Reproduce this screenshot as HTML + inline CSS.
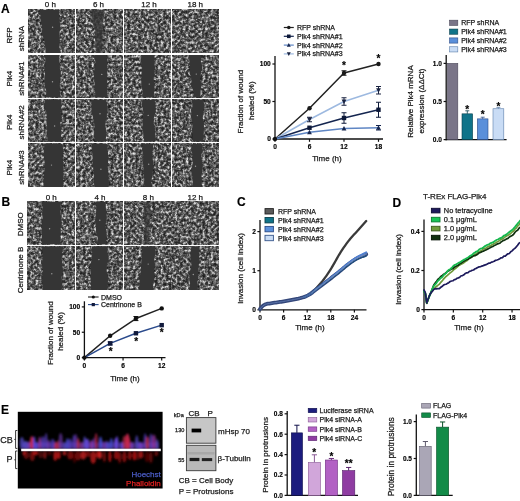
<!DOCTYPE html>
<html><head><meta charset="utf-8"><title>Figure</title>
<style>html,body{margin:0;padding:0;background:#fff;}svg{display:block;}text{font-family:"Liberation Sans",sans-serif;}</style></head>
<body>
<svg width="520" height="501" viewBox="0 0 520 501" font-family='"Liberation Sans", sans-serif'>
<defs>
<filter id="n0" x="0" y="0" width="100%" height="100%" color-interpolation-filters="sRGB">
<feTurbulence type="fractalNoise" baseFrequency="0.36" numOctaves="3" seed="2" result="t"/>
<feColorMatrix in="t" type="matrix" values="1 0 0 0 0  1 0 0 0 0  1 0 0 0 0  0 0 0 0 1" result="g"/>
<feComponentTransfer in="g"><feFuncR type="table" tableValues="0.1 0.11 0.13 0.17 0.24 0.35 0.52 0.71 0.86 0.95 0.95"/><feFuncG type="table" tableValues="0.1 0.11 0.13 0.17 0.24 0.35 0.52 0.71 0.86 0.95 0.95"/><feFuncB type="table" tableValues="0.1 0.11 0.13 0.17 0.24 0.35 0.52 0.71 0.86 0.95 0.95"/></feComponentTransfer>
<feGaussianBlur stdDeviation="0.35"/>
</filter>
<filter id="n1" x="0" y="0" width="100%" height="100%" color-interpolation-filters="sRGB">
<feTurbulence type="fractalNoise" baseFrequency="0.36" numOctaves="3" seed="3" result="t"/>
<feColorMatrix in="t" type="matrix" values="1 0 0 0 0  1 0 0 0 0  1 0 0 0 0  0 0 0 0 1" result="g"/>
<feComponentTransfer in="g"><feFuncR type="table" tableValues="0.1 0.11 0.13 0.17 0.24 0.35 0.52 0.71 0.86 0.95 0.95"/><feFuncG type="table" tableValues="0.1 0.11 0.13 0.17 0.24 0.35 0.52 0.71 0.86 0.95 0.95"/><feFuncB type="table" tableValues="0.1 0.11 0.13 0.17 0.24 0.35 0.52 0.71 0.86 0.95 0.95"/></feComponentTransfer>
<feGaussianBlur stdDeviation="0.35"/>
</filter>
<filter id="n2" x="0" y="0" width="100%" height="100%" color-interpolation-filters="sRGB">
<feTurbulence type="fractalNoise" baseFrequency="0.36" numOctaves="3" seed="4" result="t"/>
<feColorMatrix in="t" type="matrix" values="1 0 0 0 0  1 0 0 0 0  1 0 0 0 0  0 0 0 0 1" result="g"/>
<feComponentTransfer in="g"><feFuncR type="table" tableValues="0.1 0.11 0.13 0.17 0.24 0.35 0.52 0.71 0.86 0.95 0.95"/><feFuncG type="table" tableValues="0.1 0.11 0.13 0.17 0.24 0.35 0.52 0.71 0.86 0.95 0.95"/><feFuncB type="table" tableValues="0.1 0.11 0.13 0.17 0.24 0.35 0.52 0.71 0.86 0.95 0.95"/></feComponentTransfer>
<feGaussianBlur stdDeviation="0.35"/>
</filter>
<filter id="n3" x="0" y="0" width="100%" height="100%" color-interpolation-filters="sRGB">
<feTurbulence type="fractalNoise" baseFrequency="0.36" numOctaves="3" seed="5" result="t"/>
<feColorMatrix in="t" type="matrix" values="1 0 0 0 0  1 0 0 0 0  1 0 0 0 0  0 0 0 0 1" result="g"/>
<feComponentTransfer in="g"><feFuncR type="table" tableValues="0.1 0.11 0.13 0.17 0.24 0.35 0.52 0.71 0.86 0.95 0.95"/><feFuncG type="table" tableValues="0.1 0.11 0.13 0.17 0.24 0.35 0.52 0.71 0.86 0.95 0.95"/><feFuncB type="table" tableValues="0.1 0.11 0.13 0.17 0.24 0.35 0.52 0.71 0.86 0.95 0.95"/></feComponentTransfer>
<feGaussianBlur stdDeviation="0.35"/>
</filter>
<filter id="gb" x="-20%" y="-20%" width="140%" height="140%"><feGaussianBlur stdDeviation="0.6"/></filter>
<clipPath id="cp0"><rect x="28.10" y="9.80" width="46.40" height="43.20"/></clipPath>
<clipPath id="cp1"><rect x="76.10" y="9.80" width="46.50" height="43.20"/></clipPath>
<clipPath id="cp2"><rect x="124.00" y="9.80" width="46.50" height="43.20"/></clipPath>
<clipPath id="cp3"><rect x="172.00" y="9.80" width="47.00" height="43.20"/></clipPath>
<clipPath id="cp4"><rect x="28.10" y="55.00" width="46.40" height="42.60"/></clipPath>
<clipPath id="cp5"><rect x="76.10" y="55.00" width="46.50" height="42.60"/></clipPath>
<clipPath id="cp6"><rect x="124.00" y="55.00" width="46.50" height="42.60"/></clipPath>
<clipPath id="cp7"><rect x="172.00" y="55.00" width="47.00" height="42.60"/></clipPath>
<clipPath id="cp8"><rect x="28.10" y="99.60" width="46.40" height="42.20"/></clipPath>
<clipPath id="cp9"><rect x="76.10" y="99.60" width="46.50" height="42.20"/></clipPath>
<clipPath id="cp10"><rect x="124.00" y="99.60" width="46.50" height="42.20"/></clipPath>
<clipPath id="cp11"><rect x="172.00" y="99.60" width="47.00" height="42.20"/></clipPath>
<clipPath id="cp12"><rect x="28.10" y="143.80" width="46.40" height="43.20"/></clipPath>
<clipPath id="cp13"><rect x="76.10" y="143.80" width="46.50" height="43.20"/></clipPath>
<clipPath id="cp14"><rect x="124.00" y="143.80" width="46.50" height="43.20"/></clipPath>
<clipPath id="cp15"><rect x="172.00" y="143.80" width="47.00" height="43.20"/></clipPath>
<clipPath id="cp16"><rect x="27.80" y="201.90" width="46.40" height="42.60"/></clipPath>
<clipPath id="cp17"><rect x="76.20" y="201.90" width="46.60" height="42.60"/></clipPath>
<clipPath id="cp18"><rect x="124.20" y="201.90" width="46.10" height="42.60"/></clipPath>
<clipPath id="cp19"><rect x="171.80" y="201.90" width="47.00" height="42.60"/></clipPath>
<clipPath id="cp20"><rect x="27.80" y="246.30" width="46.40" height="43.70"/></clipPath>
<clipPath id="cp21"><rect x="76.20" y="246.30" width="46.60" height="43.70"/></clipPath>
<clipPath id="cp22"><rect x="124.20" y="246.30" width="46.10" height="43.70"/></clipPath>
<clipPath id="cp23"><rect x="171.80" y="246.30" width="47.00" height="43.70"/></clipPath>
<filter id="blur1" x="-20%" y="-20%" width="140%" height="140%"><feGaussianBlur stdDeviation="1.3"/></filter>
<filter id="blur2" x="-20%" y="-50%" width="140%" height="200%"><feGaussianBlur stdDeviation="0.7"/></filter>
</defs>
<rect width="520" height="501" fill="#fff"/>
<rect x="28.10" y="9.80" width="46.40" height="43.20" fill="#555" filter="url(#n0)"/>
<polygon points="39.1,9.8 40.6,16.0 40.9,22.1 42.2,28.3 41.9,34.5 44.5,40.7 45.2,46.8 45.6,53.0 60.4,53.0 59.2,46.8 60.0,40.7 59.0,34.5 60.5,28.3 59.6,22.1 59.1,16.0 59.5,9.8" fill="#343434" opacity="1" filter="url(#gb)" clip-path="url(#cp0)"/>
<circle cx="52.6" cy="27.2" r="0.7" fill="#9a9a9a"/>
<rect x="76.10" y="9.80" width="46.50" height="43.20" fill="#555" filter="url(#n1)"/>
<polygon points="91.6,9.8 91.5,16.0 92.1,22.1 94.8,28.3 94.8,34.5 95.1,40.7 95.2,46.8 96.6,53.0 101.6,53.0 102.7,46.8 102.3,40.7 102.6,34.5 102.4,28.3 102.8,22.1 104.2,16.0 104.1,9.8" fill="#343434" opacity="0.8" filter="url(#gb)" clip-path="url(#cp1)"/>
<rect x="124.00" y="9.80" width="46.50" height="43.20" fill="#555" filter="url(#n2)"/>
<rect x="172.00" y="9.80" width="47.00" height="43.20" fill="#555" filter="url(#n3)"/>
<rect x="28.10" y="55.00" width="46.40" height="42.60" fill="#555" filter="url(#n1)"/>
<polygon points="44.7,55.0 45.6,61.1 45.0,67.2 44.9,73.3 44.3,79.3 44.7,85.4 46.6,91.5 45.6,97.6 60.4,97.6 59.9,91.5 59.8,85.4 59.9,79.3 60.9,73.3 59.4,67.2 59.2,61.1 59.5,55.0" fill="#343434" opacity="1" filter="url(#gb)" clip-path="url(#cp4)"/>
<circle cx="52.5" cy="81.8" r="0.7" fill="#9a9a9a"/>
<rect x="76.10" y="55.00" width="46.50" height="42.60" fill="#555" filter="url(#n2)"/>
<polygon points="94.2,55.0 95.3,61.1 95.1,67.2 93.5,73.3 94.2,79.3 94.7,85.4 95.1,91.5 95.1,97.6 107.1,97.6 107.1,91.5 107.0,85.4 107.2,79.3 106.9,73.3 107.3,67.2 107.2,61.1 106.2,55.0" fill="#343434" opacity="1" filter="url(#gb)" clip-path="url(#cp5)"/>
<circle cx="101.8" cy="74.4" r="0.7" fill="#9a9a9a"/>
<rect x="124.00" y="55.00" width="46.50" height="42.60" fill="#555" filter="url(#n3)"/>
<polygon points="141.5,55.0 140.9,61.1 142.2,67.2 141.8,73.3 141.0,79.3 141.9,85.4 142.5,91.5 142.5,97.6 153.5,97.6 154.2,91.5 154.6,85.4 153.8,79.3 154.1,73.3 154.9,67.2 154.3,61.1 154.5,55.0" fill="#343434" opacity="1" filter="url(#gb)" clip-path="url(#cp6)"/>
<circle cx="149.3" cy="84.1" r="0.7" fill="#9a9a9a"/>
<rect x="172.00" y="55.00" width="47.00" height="42.60" fill="#555" filter="url(#n0)"/>
<polygon points="188.6,55.0 189.6,61.1 189.9,67.2 189.7,73.3 191.6,79.3 191.1,85.4 193.6,91.5 193.2,97.6 200.6,97.6 200.3,91.5 201.6,85.4 200.1,79.3 200.7,73.3 202.3,67.2 200.8,61.1 201.5,55.0" fill="#343434" opacity="1" filter="url(#gb)" clip-path="url(#cp7)"/>
<circle cx="196.3" cy="74.1" r="0.7" fill="#9a9a9a"/>
<rect x="28.10" y="99.60" width="46.40" height="42.20" fill="#555" filter="url(#n2)"/>
<polygon points="44.7,99.6 44.0,105.6 46.5,111.7 46.9,117.7 47.1,123.7 47.2,129.7 47.3,135.8 47.5,141.8 61.3,141.8 61.0,135.8 61.3,129.7 60.2,123.7 61.6,117.7 60.8,111.7 61.3,105.6 61.3,99.6" fill="#343434" opacity="1" filter="url(#gb)" clip-path="url(#cp8)"/>
<circle cx="54.6" cy="126.0" r="0.7" fill="#9a9a9a"/>
<rect x="76.10" y="99.60" width="46.50" height="42.20" fill="#555" filter="url(#n3)"/>
<polygon points="91.4,99.6 91.7,105.6 91.4,111.7 93.4,117.7 94.2,123.7 94.7,129.7 93.8,135.8 95.1,141.8 105.3,141.8 106.2,135.8 105.9,129.7 105.0,123.7 106.5,117.7 107.0,111.7 107.0,105.6 106.2,99.6" fill="#343434" opacity="1" filter="url(#gb)" clip-path="url(#cp9)"/>
<circle cx="100.0" cy="113.8" r="0.7" fill="#9a9a9a"/>
<rect x="124.00" y="99.60" width="46.50" height="42.20" fill="#555" filter="url(#n0)"/>
<polygon points="142.5,99.6 141.7,105.6 143.7,111.7 142.8,117.7 142.5,123.7 142.7,129.7 143.7,135.8 144.3,141.8 154.5,141.8 155.2,135.8 154.9,129.7 153.8,123.7 153.8,117.7 155.6,111.7 155.6,105.6 154.5,99.6" fill="#343434" opacity="1" filter="url(#gb)" clip-path="url(#cp10)"/>
<circle cx="148.2" cy="115.4" r="0.7" fill="#9a9a9a"/>
<rect x="172.00" y="99.60" width="47.00" height="42.20" fill="#555" filter="url(#n1)"/>
<polygon points="191.5,99.6 192.6,105.6 191.4,111.7 191.1,117.7 192.7,123.7 191.9,129.7 192.5,135.8 193.0,141.8 203.0,141.8 203.2,135.8 203.6,129.7 203.9,123.7 202.6,117.7 203.3,111.7 204.1,105.6 203.7,99.6" fill="#343434" opacity="1" filter="url(#gb)" clip-path="url(#cp11)"/>
<circle cx="197.4" cy="115.6" r="0.7" fill="#9a9a9a"/>
<rect x="28.10" y="143.80" width="46.40" height="43.20" fill="#555" filter="url(#n3)"/>
<polygon points="44.7,143.8 43.7,150.0 43.8,156.1 44.9,162.3 44.4,168.5 44.1,174.7 43.3,180.8 43.8,187.0 63.1,187.0 63.4,180.8 63.6,174.7 63.2,168.5 63.5,162.3 62.4,156.1 63.3,150.0 62.3,143.8" fill="#343434" opacity="1" filter="url(#gb)" clip-path="url(#cp12)"/>
<circle cx="51.5" cy="165.1" r="0.7" fill="#9a9a9a"/>
<rect x="76.10" y="143.80" width="46.50" height="43.20" fill="#555" filter="url(#n0)"/>
<polygon points="91.4,143.8 91.9,150.0 92.9,156.1 93.0,162.3 93.2,168.5 94.1,174.7 94.0,180.8 94.2,187.0 108.1,187.0 108.2,180.8 108.9,174.7 107.6,168.5 108.2,162.3 108.4,156.1 107.4,150.0 107.1,143.8" fill="#343434" opacity="1" filter="url(#gb)" clip-path="url(#cp13)"/>
<circle cx="100.9" cy="169.2" r="0.7" fill="#9a9a9a"/>
<rect x="124.00" y="143.80" width="46.50" height="43.20" fill="#555" filter="url(#n1)"/>
<polygon points="142.5,143.8 142.1,150.0 143.6,156.1 143.0,162.3 143.6,168.5 143.8,174.7 144.3,180.8 144.3,187.0 151.7,187.0 151.3,180.8 152.0,174.7 153.4,168.5 153.1,162.3 152.4,156.1 152.7,150.0 153.5,143.8" fill="#343434" opacity="1" filter="url(#gb)" clip-path="url(#cp14)"/>
<circle cx="148.7" cy="164.3" r="0.7" fill="#9a9a9a"/>
<rect x="172.00" y="143.80" width="47.00" height="43.20" fill="#555" filter="url(#n2)"/>
<polygon points="192.3,143.8 191.2,150.0 193.0,156.1 193.0,162.3 191.6,168.5 192.0,174.7 192.6,180.8 192.3,187.0 201.3,187.0 201.8,180.8 201.3,174.7 202.6,168.5 202.3,162.3 200.7,156.1 202.7,150.0 201.8,143.8" fill="#343434" opacity="1" filter="url(#gb)" clip-path="url(#cp15)"/>
<circle cx="195.5" cy="166.2" r="0.7" fill="#9a9a9a"/>
<rect x="27.80" y="201.90" width="46.40" height="42.60" fill="#555" filter="url(#n1)"/>
<polygon points="42.0,201.9 42.5,208.0 42.1,214.1 42.8,220.2 41.6,226.2 42.0,232.3 41.9,238.4 42.0,244.5 60.5,244.5 60.4,238.4 60.3,232.3 61.1,226.2 61.8,220.2 60.6,214.1 60.2,208.0 61.4,201.9" fill="#343434" opacity="1" filter="url(#gb)" clip-path="url(#cp16)"/>
<circle cx="49.6" cy="228.7" r="0.7" fill="#9a9a9a"/>
<rect x="76.20" y="201.90" width="46.60" height="42.60" fill="#555" filter="url(#n2)"/>
<polygon points="95.2,201.9 96.5,208.0 95.9,214.1 95.1,220.2 95.7,226.2 96.2,232.3 97.8,238.4 97.1,244.5 106.3,244.5 106.6,238.4 106.6,232.3 105.4,226.2 106.4,220.2 106.6,214.1 105.8,208.0 105.4,201.9" fill="#343434" opacity="1" filter="url(#gb)" clip-path="url(#cp17)"/>
<circle cx="99.8" cy="220.2" r="0.7" fill="#9a9a9a"/>
<rect x="124.20" y="201.90" width="46.10" height="42.60" fill="#555" filter="url(#n3)"/>
<polygon points="143.6,201.9 144.0,208.0 143.0,214.1 144.1,220.2 144.9,226.2 144.3,232.3 144.6,238.4 145.2,244.5 146.7,244.5 148.5,238.4 149.2,232.3 149.9,226.2 149.2,220.2 151.4,214.1 150.3,208.0 151.9,201.9" fill="#343434" opacity="0.7" filter="url(#gb)" clip-path="url(#cp18)"/>
<rect x="171.80" y="201.90" width="47.00" height="42.60" fill="#555" filter="url(#n0)"/>
<rect x="27.80" y="246.30" width="46.40" height="43.70" fill="#555" filter="url(#n2)"/>
<polygon points="42.0,246.3 42.8,252.5 42.7,258.8 41.9,265.0 42.9,271.3 42.4,277.5 42.4,283.8 42.9,290.0 61.4,290.0 62.2,283.8 61.4,277.5 63.1,271.3 62.6,265.0 61.6,258.8 62.2,252.5 63.2,246.3" fill="#343434" opacity="1" filter="url(#gb)" clip-path="url(#cp20)"/>
<circle cx="51.8" cy="273.8" r="0.7" fill="#9a9a9a"/>
<rect x="76.20" y="246.30" width="46.60" height="43.70" fill="#555" filter="url(#n3)"/>
<polygon points="91.5,246.3 92.4,252.5 91.6,258.8 90.6,265.0 91.0,271.3 90.3,277.5 91.1,283.8 90.6,290.0 107.2,290.0 107.8,283.8 108.2,277.5 106.7,271.3 106.8,265.0 108.9,258.8 107.0,252.5 108.1,246.3" fill="#343434" opacity="1" filter="url(#gb)" clip-path="url(#cp21)"/>
<circle cx="98.9" cy="259.6" r="0.7" fill="#9a9a9a"/>
<rect x="124.20" y="246.30" width="46.10" height="43.70" fill="#555" filter="url(#n0)"/>
<polygon points="141.7,246.3 142.3,252.5 141.8,258.8 141.0,265.0 140.8,271.3 139.7,277.5 139.2,283.8 139.9,290.0 153.7,290.0 152.8,283.8 155.0,277.5 153.6,271.3 155.0,265.0 154.2,258.8 155.6,252.5 154.7,246.3" fill="#343434" opacity="1" filter="url(#gb)" clip-path="url(#cp22)"/>
<circle cx="148.2" cy="264.1" r="0.7" fill="#9a9a9a"/>
<rect x="171.80" y="246.30" width="47.00" height="43.70" fill="#555" filter="url(#n1)"/>
<polygon points="191.6,246.3 190.6,252.5 190.8,258.8 191.5,265.0 189.9,271.3 189.4,277.5 190.1,283.8 188.8,290.0 198.0,290.0 197.3,283.8 198.1,277.5 198.1,271.3 198.6,265.0 199.5,258.8 198.9,252.5 199.8,246.3" fill="#343434" opacity="1" filter="url(#gb)" clip-path="url(#cp23)"/>
<circle cx="193.3" cy="274.5" r="0.7" fill="#9a9a9a"/>
<text x="1.00" y="13.10" font-size="12" font-weight="bold" text-anchor="start" fill="#000" stroke="#000" stroke-width="0.15">A</text>
<text x="1.40" y="206.10" font-size="12" font-weight="bold" text-anchor="start" fill="#000" stroke="#000" stroke-width="0.15">B</text>
<text x="237.00" y="206.40" font-size="12" font-weight="bold" text-anchor="start" fill="#000" stroke="#000" stroke-width="0.15">C</text>
<text x="392.60" y="206.50" font-size="12" font-weight="bold" text-anchor="start" fill="#000" stroke="#000" stroke-width="0.15">D</text>
<text x="1.10" y="413.60" font-size="12" font-weight="bold" text-anchor="start" fill="#000" stroke="#000" stroke-width="0.15">E</text>
<text x="50.30" y="7.10" font-size="8" font-weight="normal" text-anchor="middle" fill="#1a1a1a" stroke="#1a1a1a" stroke-width="0.25">0 h</text>
<text x="98.50" y="7.10" font-size="8" font-weight="normal" text-anchor="middle" fill="#1a1a1a" stroke="#1a1a1a" stroke-width="0.25">6 h</text>
<text x="149.00" y="7.10" font-size="8" font-weight="normal" text-anchor="middle" fill="#1a1a1a" stroke="#1a1a1a" stroke-width="0.25">12 h</text>
<text x="195.30" y="7.10" font-size="8" font-weight="normal" text-anchor="middle" fill="#1a1a1a" stroke="#1a1a1a" stroke-width="0.25">18 h</text>
<text x="51.20" y="200.20" font-size="8" font-weight="normal" text-anchor="middle" fill="#1a1a1a" stroke="#1a1a1a" stroke-width="0.25">0 h</text>
<text x="100.00" y="200.20" font-size="8" font-weight="normal" text-anchor="middle" fill="#1a1a1a" stroke="#1a1a1a" stroke-width="0.25">4 h</text>
<text x="148.40" y="200.20" font-size="8" font-weight="normal" text-anchor="middle" fill="#1a1a1a" stroke="#1a1a1a" stroke-width="0.25">8 h</text>
<text x="195.30" y="200.20" font-size="8" font-weight="normal" text-anchor="middle" fill="#1a1a1a" stroke="#1a1a1a" stroke-width="0.25">12 h</text>
<text x="12.30" y="35.40" font-size="8" font-weight="normal" text-anchor="middle" fill="#1a1a1a" stroke="#1a1a1a" stroke-width="0.25" transform="rotate(-90 12.3 35.4)">RFP</text>
<text x="23.60" y="38.50" font-size="8" font-weight="normal" text-anchor="middle" fill="#1a1a1a" stroke="#1a1a1a" stroke-width="0.25" transform="rotate(-90 23.6 38.5)">shRNA</text>
<text x="12.30" y="78.60" font-size="8" font-weight="normal" text-anchor="middle" fill="#1a1a1a" stroke="#1a1a1a" stroke-width="0.25" transform="rotate(-90 12.3 78.6)">Plk4</text>
<text x="23.60" y="78.60" font-size="8" font-weight="normal" text-anchor="middle" fill="#1a1a1a" stroke="#1a1a1a" stroke-width="0.25" transform="rotate(-90 23.6 78.6)">shRNA#1</text>
<text x="12.30" y="122.30" font-size="8" font-weight="normal" text-anchor="middle" fill="#1a1a1a" stroke="#1a1a1a" stroke-width="0.25" transform="rotate(-90 12.3 122.3)">Plk4</text>
<text x="23.60" y="122.30" font-size="8" font-weight="normal" text-anchor="middle" fill="#1a1a1a" stroke="#1a1a1a" stroke-width="0.25" transform="rotate(-90 23.6 122.3)">shRNA#2</text>
<text x="12.30" y="167.60" font-size="8" font-weight="normal" text-anchor="middle" fill="#1a1a1a" stroke="#1a1a1a" stroke-width="0.25" transform="rotate(-90 12.3 167.6)">Plk4</text>
<text x="23.60" y="167.50" font-size="8" font-weight="normal" text-anchor="middle" fill="#1a1a1a" stroke="#1a1a1a" stroke-width="0.25" transform="rotate(-90 23.6 167.5)">shRNA#3</text>
<text x="23.10" y="224.30" font-size="8" font-weight="normal" text-anchor="middle" fill="#1a1a1a" stroke="#1a1a1a" stroke-width="0.25" transform="rotate(-90 23.1 224.3)">DMSO</text>
<text x="23.10" y="270.00" font-size="8" font-weight="normal" text-anchor="middle" fill="#1a1a1a" stroke="#1a1a1a" stroke-width="0.25" transform="rotate(-90 23.1 270)">Centrinone B</text>
<line x1="275.00" y1="56.00" x2="275.00" y2="139.60" stroke="#111" stroke-width="1.3"/>
<line x1="274.40" y1="139.00" x2="383.00" y2="139.00" stroke="#111" stroke-width="1.3"/>
<line x1="272.40" y1="139.00" x2="275.00" y2="139.00" stroke="#111" stroke-width="1.2"/>
<text x="270.80" y="141.40" font-size="6.6" font-weight="bold" text-anchor="end" fill="#000" stroke="#000" stroke-width="0.15">0</text>
<line x1="272.40" y1="101.50" x2="275.00" y2="101.50" stroke="#111" stroke-width="1.2"/>
<text x="270.80" y="103.90" font-size="6.6" font-weight="bold" text-anchor="end" fill="#000" stroke="#000" stroke-width="0.15">50</text>
<line x1="272.40" y1="64.00" x2="275.00" y2="64.00" stroke="#111" stroke-width="1.2"/>
<text x="270.80" y="66.40" font-size="6.6" font-weight="bold" text-anchor="end" fill="#000" stroke="#000" stroke-width="0.15">100</text>
<line x1="275.00" y1="139.00" x2="275.00" y2="141.80" stroke="#111" stroke-width="1.2"/>
<text x="275.00" y="149.00" font-size="6.6" font-weight="bold" text-anchor="middle" fill="#000" stroke="#000" stroke-width="0.15">0</text>
<line x1="309.50" y1="139.00" x2="309.50" y2="141.80" stroke="#111" stroke-width="1.2"/>
<text x="309.50" y="149.00" font-size="6.6" font-weight="bold" text-anchor="middle" fill="#000" stroke="#000" stroke-width="0.15">6</text>
<line x1="344.00" y1="139.00" x2="344.00" y2="141.80" stroke="#111" stroke-width="1.2"/>
<text x="344.00" y="149.00" font-size="6.6" font-weight="bold" text-anchor="middle" fill="#000" stroke="#000" stroke-width="0.15">12</text>
<line x1="378.50" y1="139.00" x2="378.50" y2="141.80" stroke="#111" stroke-width="1.2"/>
<text x="378.50" y="149.00" font-size="6.6" font-weight="bold" text-anchor="middle" fill="#000" stroke="#000" stroke-width="0.15">18</text>
<text x="327.00" y="161.00" font-size="8" font-weight="normal" text-anchor="middle" fill="#1a1a1a" stroke="#1a1a1a" stroke-width="0.25">Time (h)</text>
<text x="243.40" y="101.70" font-size="8" font-weight="normal" text-anchor="middle" fill="#1a1a1a" stroke="#1a1a1a" stroke-width="0.25" transform="rotate(-90 243.4 101.7)">Fraction of wound</text>
<text x="253.70" y="100.70" font-size="8" font-weight="normal" text-anchor="middle" fill="#1a1a1a" stroke="#1a1a1a" stroke-width="0.25" transform="rotate(-90 253.7 100.7)">healed (%)</text>
<polyline points="275.00,139.00 309.50,108.25 344.00,73.00 378.50,64.00" fill="none" stroke="#222" stroke-width="1.5" stroke-linejoin="round" stroke-linecap="round"/>
<polyline points="275.00,139.00 309.50,119.50 344.00,101.50 378.50,90.25" fill="none" stroke="#9db9e0" stroke-width="1.5" stroke-linejoin="round" stroke-linecap="round"/>
<polyline points="275.00,139.00 309.50,127.75 344.00,118.00 378.50,109.75" fill="none" stroke="#14254f" stroke-width="1.5" stroke-linejoin="round" stroke-linecap="round"/>
<polyline points="275.00,139.00 309.50,132.25 344.00,128.50 378.50,127.75" fill="none" stroke="#5f86c4" stroke-width="1.5" stroke-linejoin="round" stroke-linecap="round"/>
<circle cx="309.50" cy="108.25" r="2.2" fill="#1a1a1a"/>
<line x1="344.00" y1="70.75" x2="344.00" y2="75.25" stroke="#1a1a1a" stroke-width="1"/>
<line x1="341.50" y1="70.75" x2="346.50" y2="70.75" stroke="#1a1a1a" stroke-width="1"/>
<line x1="341.50" y1="75.25" x2="346.50" y2="75.25" stroke="#1a1a1a" stroke-width="1"/>
<circle cx="344.00" cy="73.00" r="2.2" fill="#1a1a1a"/>
<circle cx="378.50" cy="64.00" r="2.2" fill="#1a1a1a"/>
<line x1="309.50" y1="117.25" x2="309.50" y2="121.75" stroke="#1a2340" stroke-width="1"/>
<line x1="307.00" y1="117.25" x2="312.00" y2="117.25" stroke="#1a2340" stroke-width="1"/>
<line x1="307.00" y1="121.75" x2="312.00" y2="121.75" stroke="#1a2340" stroke-width="1"/>
<polygon points="309.50,121.92 307.08,117.52 311.92,117.52" fill="#1a2340"/>
<line x1="344.00" y1="97.75" x2="344.00" y2="105.25" stroke="#1a2340" stroke-width="1"/>
<line x1="341.50" y1="97.75" x2="346.50" y2="97.75" stroke="#1a2340" stroke-width="1"/>
<line x1="341.50" y1="105.25" x2="346.50" y2="105.25" stroke="#1a2340" stroke-width="1"/>
<polygon points="344.00,103.92 341.58,99.52 346.42,99.52" fill="#1a2340"/>
<line x1="378.50" y1="86.50" x2="378.50" y2="94.00" stroke="#1a2340" stroke-width="1"/>
<line x1="376.00" y1="86.50" x2="381.00" y2="86.50" stroke="#1a2340" stroke-width="1"/>
<line x1="376.00" y1="94.00" x2="381.00" y2="94.00" stroke="#1a2340" stroke-width="1"/>
<polygon points="378.50,92.67 376.08,88.27 380.92,88.27" fill="#1a2340"/>
<rect x="307.30" y="125.55" width="4.40" height="4.40" fill="#0c1838"/>
<line x1="344.00" y1="112.75" x2="344.00" y2="123.25" stroke="#0c1838" stroke-width="1"/>
<line x1="341.50" y1="112.75" x2="346.50" y2="112.75" stroke="#0c1838" stroke-width="1"/>
<line x1="341.50" y1="123.25" x2="346.50" y2="123.25" stroke="#0c1838" stroke-width="1"/>
<rect x="341.80" y="115.80" width="4.40" height="4.40" fill="#0c1838"/>
<line x1="378.50" y1="102.25" x2="378.50" y2="117.25" stroke="#0c1838" stroke-width="1"/>
<line x1="376.00" y1="102.25" x2="381.00" y2="102.25" stroke="#0c1838" stroke-width="1"/>
<line x1="376.00" y1="117.25" x2="381.00" y2="117.25" stroke="#0c1838" stroke-width="1"/>
<rect x="376.30" y="107.55" width="4.40" height="4.40" fill="#0c1838"/>
<polygon points="309.50,129.83 307.08,134.23 311.92,134.23" fill="#16264f"/>
<polygon points="344.00,126.08 341.58,130.48 346.42,130.48" fill="#16264f"/>
<line x1="378.50" y1="125.50" x2="378.50" y2="130.00" stroke="#16264f" stroke-width="1"/>
<line x1="376.00" y1="125.50" x2="381.00" y2="125.50" stroke="#16264f" stroke-width="1"/>
<line x1="376.00" y1="130.00" x2="381.00" y2="130.00" stroke="#16264f" stroke-width="1"/>
<polygon points="378.50,125.33 376.08,129.73 380.92,129.73" fill="#16264f"/>
<circle cx="275.00" cy="139.00" r="2.2" fill="#111"/>
<text x="344.00" y="69.40" font-size="10" font-weight="bold" text-anchor="middle" fill="#000" stroke="#000" stroke-width="0.15">*</text>
<text x="378.50" y="62.10" font-size="10" font-weight="bold" text-anchor="middle" fill="#000" stroke="#000" stroke-width="0.15">*</text>
<line x1="283.80" y1="27.50" x2="293.80" y2="27.50" stroke="#222" stroke-width="1.2"/>
<circle cx="288.80" cy="27.50" r="1.8" fill="#1a1a1a"/>
<text x="297.00" y="30.00" font-size="7" font-weight="normal" text-anchor="start" fill="#1a1a1a" stroke="#1a1a1a" stroke-width="0.25">RFP shRNA</text>
<line x1="283.80" y1="36.30" x2="293.80" y2="36.30" stroke="#14254f" stroke-width="1.2"/>
<rect x="287.00" y="34.50" width="3.60" height="3.60" fill="#0c1838"/>
<text x="297.00" y="38.80" font-size="7" font-weight="normal" text-anchor="start" fill="#1a1a1a" stroke="#1a1a1a" stroke-width="0.25">Plk4 shRNA#1</text>
<line x1="283.80" y1="45.10" x2="293.80" y2="45.10" stroke="#5f86c4" stroke-width="1.2"/>
<polygon points="288.80,43.12 286.82,46.72 290.78,46.72" fill="#16264f"/>
<text x="297.00" y="47.60" font-size="7" font-weight="normal" text-anchor="start" fill="#1a1a1a" stroke="#1a1a1a" stroke-width="0.25">Plk4 shRNA#2</text>
<line x1="283.80" y1="53.90" x2="293.80" y2="53.90" stroke="#9db9e0" stroke-width="1.2"/>
<polygon points="288.80,55.88 286.82,52.28 290.78,52.28" fill="#1a2340"/>
<text x="297.00" y="56.40" font-size="7" font-weight="normal" text-anchor="start" fill="#1a1a1a" stroke="#1a1a1a" stroke-width="0.25">Plk4 shRNA#3</text>
<line x1="446.20" y1="55.00" x2="446.20" y2="140.20" stroke="#111" stroke-width="1.3"/>
<line x1="445.60" y1="139.60" x2="506.60" y2="139.60" stroke="#111" stroke-width="1.3"/>
<line x1="443.60" y1="139.60" x2="446.20" y2="139.60" stroke="#111" stroke-width="1.2"/>
<text x="442.00" y="142.00" font-size="6.6" font-weight="bold" text-anchor="end" fill="#000" stroke="#000" stroke-width="0.15">0.0</text>
<line x1="443.60" y1="101.50" x2="446.20" y2="101.50" stroke="#111" stroke-width="1.2"/>
<text x="442.00" y="103.90" font-size="6.6" font-weight="bold" text-anchor="end" fill="#000" stroke="#000" stroke-width="0.15">0.5</text>
<line x1="443.60" y1="63.40" x2="446.20" y2="63.40" stroke="#111" stroke-width="1.2"/>
<text x="442.00" y="65.80" font-size="6.6" font-weight="bold" text-anchor="end" fill="#000" stroke="#000" stroke-width="0.15">1.0</text>
<rect x="447.60" y="63.40" width="10.20" height="76.20" fill="#7a7588" stroke="#4a4658" stroke-width="0.6"/>
<line x1="467.30" y1="110.80" x2="467.30" y2="113.84" stroke="#0a3f4c" stroke-width="0.8"/>
<line x1="465.30" y1="110.80" x2="469.30" y2="110.80" stroke="#0a3f4c" stroke-width="0.8"/>
<rect x="462.00" y="113.84" width="10.60" height="25.76" fill="#0f7389" stroke="#0a3f4c" stroke-width="0.6"/>
<line x1="482.70" y1="117.20" x2="482.70" y2="118.87" stroke="#2a4a86" stroke-width="0.8"/>
<line x1="480.70" y1="117.20" x2="484.70" y2="117.20" stroke="#2a4a86" stroke-width="0.8"/>
<rect x="477.40" y="118.87" width="10.60" height="20.73" fill="#5a8fda" stroke="#2a4a86" stroke-width="0.6"/>
<line x1="498.40" y1="107.37" x2="498.40" y2="108.74" stroke="#5d7faa" stroke-width="0.8"/>
<line x1="496.40" y1="107.37" x2="500.40" y2="107.37" stroke="#5d7faa" stroke-width="0.8"/>
<rect x="493.00" y="108.74" width="10.80" height="30.86" fill="#c9dcf5" stroke="#5d7faa" stroke-width="0.6"/>
<text x="467.30" y="112.60" font-size="10" font-weight="bold" text-anchor="middle" fill="#000" stroke="#000" stroke-width="0.15">*</text>
<text x="482.70" y="117.60" font-size="10" font-weight="bold" text-anchor="middle" fill="#000" stroke="#000" stroke-width="0.15">*</text>
<text x="498.40" y="109.80" font-size="10" font-weight="bold" text-anchor="middle" fill="#000" stroke="#000" stroke-width="0.15">*</text>
<text x="413.20" y="101.50" font-size="8" font-weight="normal" text-anchor="middle" fill="#1a1a1a" stroke="#1a1a1a" stroke-width="0.25" transform="rotate(-90 413.2 101.5)">Relative Plk4 mRNA</text>
<text x="423.80" y="101.00" font-size="8" font-weight="normal" text-anchor="middle" fill="#1a1a1a" stroke="#1a1a1a" stroke-width="0.25" transform="rotate(-90 423.8 101)">expression (ΔΔCt)</text>
<rect x="449.60" y="20.20" width="8.20" height="5.20" fill="#7a7588" stroke="#4a4658" stroke-width="0.6"/>
<text x="461.20" y="25.20" font-size="7" font-weight="normal" text-anchor="start" fill="#1a1a1a" stroke="#1a1a1a" stroke-width="0.25">RFP shRNA</text>
<rect x="449.60" y="29.05" width="8.20" height="5.20" fill="#0f7389" stroke="#0a3f4c" stroke-width="0.6"/>
<text x="461.20" y="34.05" font-size="7" font-weight="normal" text-anchor="start" fill="#1a1a1a" stroke="#1a1a1a" stroke-width="0.25">Plk4 shRNA#1</text>
<rect x="449.60" y="37.90" width="8.20" height="5.20" fill="#5a8fda" stroke="#2a4a86" stroke-width="0.6"/>
<text x="461.20" y="42.90" font-size="7" font-weight="normal" text-anchor="start" fill="#1a1a1a" stroke="#1a1a1a" stroke-width="0.25">Plk4 shRNA#2</text>
<rect x="449.60" y="46.75" width="8.20" height="5.20" fill="#c9dcf5" stroke="#5d7faa" stroke-width="0.6"/>
<text x="461.20" y="51.75" font-size="7" font-weight="normal" text-anchor="start" fill="#1a1a1a" stroke="#1a1a1a" stroke-width="0.25">Plk4 shRNA#3</text>
<line x1="84.40" y1="301.30" x2="84.40" y2="358.20" stroke="#111" stroke-width="1.3"/>
<line x1="83.80" y1="357.60" x2="165.50" y2="357.60" stroke="#111" stroke-width="1.3"/>
<line x1="81.80" y1="357.60" x2="84.40" y2="357.60" stroke="#111" stroke-width="1.2"/>
<text x="80.20" y="360.00" font-size="6.6" font-weight="bold" text-anchor="end" fill="#000" stroke="#000" stroke-width="0.15">0</text>
<line x1="81.80" y1="332.25" x2="84.40" y2="332.25" stroke="#111" stroke-width="1.2"/>
<text x="80.20" y="334.65" font-size="6.6" font-weight="bold" text-anchor="end" fill="#000" stroke="#000" stroke-width="0.15">50</text>
<line x1="81.80" y1="306.90" x2="84.40" y2="306.90" stroke="#111" stroke-width="1.2"/>
<text x="80.20" y="309.30" font-size="6.6" font-weight="bold" text-anchor="end" fill="#000" stroke="#000" stroke-width="0.15">100</text>
<line x1="84.40" y1="357.60" x2="84.40" y2="360.40" stroke="#111" stroke-width="1.2"/>
<text x="84.40" y="367.60" font-size="6.6" font-weight="bold" text-anchor="middle" fill="#000" stroke="#000" stroke-width="0.15">0</text>
<line x1="123.05" y1="357.60" x2="123.05" y2="360.40" stroke="#111" stroke-width="1.2"/>
<text x="123.05" y="367.60" font-size="6.6" font-weight="bold" text-anchor="middle" fill="#000" stroke="#000" stroke-width="0.15">6</text>
<line x1="161.70" y1="357.60" x2="161.70" y2="360.40" stroke="#111" stroke-width="1.2"/>
<text x="161.70" y="367.60" font-size="6.6" font-weight="bold" text-anchor="middle" fill="#000" stroke="#000" stroke-width="0.15">12</text>
<text x="125.00" y="380.50" font-size="8" font-weight="normal" text-anchor="middle" fill="#1a1a1a" stroke="#1a1a1a" stroke-width="0.25">Time (h)</text>
<text x="53.30" y="333.20" font-size="8" font-weight="normal" text-anchor="middle" fill="#1a1a1a" stroke="#1a1a1a" stroke-width="0.25" transform="rotate(-90 53.3 333.2)">Fraction of wound</text>
<text x="63.40" y="331.50" font-size="8" font-weight="normal" text-anchor="middle" fill="#1a1a1a" stroke="#1a1a1a" stroke-width="0.25" transform="rotate(-90 63.4 331.5)">healed (%)</text>
<polyline points="84.40,357.60 110.17,335.80 135.93,318.56 161.70,308.42" fill="none" stroke="#222" stroke-width="1.5" stroke-linejoin="round" stroke-linecap="round"/>
<polyline points="84.40,357.60 110.17,343.40 135.93,333.26 161.70,325.15" fill="none" stroke="#2a4a8c" stroke-width="1.5" stroke-linejoin="round" stroke-linecap="round"/>
<circle cx="110.17" cy="335.80" r="2.2" fill="#111"/>
<line x1="135.93" y1="316.53" x2="135.93" y2="320.59" stroke="#111" stroke-width="1"/>
<line x1="133.43" y1="316.53" x2="138.43" y2="316.53" stroke="#111" stroke-width="1"/>
<line x1="133.43" y1="320.59" x2="138.43" y2="320.59" stroke="#111" stroke-width="1"/>
<circle cx="135.93" cy="318.56" r="2.2" fill="#111"/>
<circle cx="161.70" cy="308.42" r="2.2" fill="#111"/>
<line x1="110.17" y1="341.88" x2="110.17" y2="344.93" stroke="#111a3c" stroke-width="1"/>
<line x1="107.67" y1="341.88" x2="112.67" y2="341.88" stroke="#111a3c" stroke-width="1"/>
<line x1="107.67" y1="344.93" x2="112.67" y2="344.93" stroke="#111a3c" stroke-width="1"/>
<rect x="107.97" y="341.20" width="4.40" height="4.40" fill="#111a3c"/>
<rect x="133.73" y="331.06" width="4.40" height="4.40" fill="#111a3c"/>
<rect x="159.50" y="322.95" width="4.40" height="4.40" fill="#111a3c"/>
<circle cx="84.40" cy="357.60" r="2.2" fill="#111"/>
<text x="110.75" y="355.10" font-size="10" font-weight="bold" text-anchor="middle" fill="#000" stroke="#000" stroke-width="0.15">*</text>
<text x="136.25" y="345.10" font-size="10" font-weight="bold" text-anchor="middle" fill="#000" stroke="#000" stroke-width="0.15">*</text>
<text x="161.75" y="336.35" font-size="10" font-weight="bold" text-anchor="middle" fill="#000" stroke="#000" stroke-width="0.15">*</text>
<line x1="88.00" y1="297.00" x2="98.60" y2="297.00" stroke="#222" stroke-width="1.1"/>
<circle cx="93.30" cy="297.00" r="1.6" fill="#111"/>
<text x="101.00" y="299.50" font-size="7" font-weight="normal" text-anchor="start" fill="#1a1a1a" stroke="#1a1a1a" stroke-width="0.25">DMSO</text>
<line x1="88.00" y1="304.60" x2="98.60" y2="304.60" stroke="#2a4a8c" stroke-width="1.1"/>
<rect x="91.70" y="303.00" width="3.20" height="3.20" fill="#111a3c"/>
<text x="101.00" y="307.10" font-size="7" font-weight="normal" text-anchor="start" fill="#1a1a1a" stroke="#1a1a1a" stroke-width="0.25">Centrinone B</text>
<line x1="260.00" y1="220.00" x2="260.00" y2="310.40" stroke="#111" stroke-width="1.3"/>
<line x1="259.40" y1="309.80" x2="366.50" y2="309.80" stroke="#111" stroke-width="1.3"/>
<line x1="257.40" y1="309.80" x2="260.00" y2="309.80" stroke="#111" stroke-width="1.2"/>
<text x="255.80" y="312.20" font-size="6.6" font-weight="bold" text-anchor="end" fill="#000" stroke="#000" stroke-width="0.15">0</text>
<line x1="257.40" y1="270.70" x2="260.00" y2="270.70" stroke="#111" stroke-width="1.2"/>
<text x="255.80" y="273.10" font-size="6.6" font-weight="bold" text-anchor="end" fill="#000" stroke="#000" stroke-width="0.15">1</text>
<line x1="257.40" y1="231.60" x2="260.00" y2="231.60" stroke="#111" stroke-width="1.2"/>
<text x="255.80" y="234.00" font-size="6.6" font-weight="bold" text-anchor="end" fill="#000" stroke="#000" stroke-width="0.15">2</text>
<line x1="260.00" y1="309.80" x2="260.00" y2="312.60" stroke="#111" stroke-width="1.2"/>
<text x="260.00" y="319.80" font-size="6.6" font-weight="bold" text-anchor="middle" fill="#000" stroke="#000" stroke-width="0.15">0</text>
<line x1="283.60" y1="309.80" x2="283.60" y2="312.60" stroke="#111" stroke-width="1.2"/>
<text x="283.60" y="319.80" font-size="6.6" font-weight="bold" text-anchor="middle" fill="#000" stroke="#000" stroke-width="0.15">6</text>
<line x1="307.20" y1="309.80" x2="307.20" y2="312.60" stroke="#111" stroke-width="1.2"/>
<text x="307.20" y="319.80" font-size="6.6" font-weight="bold" text-anchor="middle" fill="#000" stroke="#000" stroke-width="0.15">12</text>
<line x1="330.80" y1="309.80" x2="330.80" y2="312.60" stroke="#111" stroke-width="1.2"/>
<text x="330.80" y="319.80" font-size="6.6" font-weight="bold" text-anchor="middle" fill="#000" stroke="#000" stroke-width="0.15">18</text>
<line x1="354.40" y1="309.80" x2="354.40" y2="312.60" stroke="#111" stroke-width="1.2"/>
<text x="354.40" y="319.80" font-size="6.6" font-weight="bold" text-anchor="middle" fill="#000" stroke="#000" stroke-width="0.15">24</text>
<text x="310.00" y="330.30" font-size="8" font-weight="normal" text-anchor="middle" fill="#1a1a1a" stroke="#1a1a1a" stroke-width="0.25">Time (h)</text>
<text x="243.00" y="268.50" font-size="8" font-weight="normal" text-anchor="middle" fill="#1a1a1a" stroke="#1a1a1a" stroke-width="0.25" transform="rotate(-90 243.0 268.5)">Invasion (cell index)</text>
<polyline points="260.00,309.02 261.33,307.38 262.65,306.04 263.98,305.08 265.31,304.33 266.64,303.96 267.96,303.71 269.29,303.51 270.62,303.32 271.95,303.13 273.27,302.93 274.60,302.73 275.93,302.54 277.26,302.35 278.58,302.16 279.91,301.97 281.24,301.77 282.57,301.56 283.89,301.34 285.22,301.12 286.55,300.90 287.88,300.67 289.20,300.43 290.53,300.19 291.86,299.95 293.19,299.69 294.51,299.43 295.84,299.15 297.17,298.86 298.50,298.56 299.82,298.23 301.15,297.89 302.48,297.52 303.81,297.12 305.13,296.64 306.46,296.08 307.79,295.43 309.12,294.73 310.44,293.89 311.77,292.84 313.10,291.57 314.43,290.17 315.75,288.72 317.08,287.28 318.41,285.82 319.74,284.33 321.06,282.79 322.39,281.16 323.72,279.45 325.05,277.66 326.38,275.81 327.70,273.89 329.03,271.90 330.36,269.84 331.69,267.69 333.01,265.42 334.34,263.07 335.67,260.69 337.00,258.32 338.32,256.01 339.65,253.81 340.98,251.72 342.31,249.68 343.63,247.71 344.96,245.79 346.29,243.94 347.62,242.14 348.94,240.42 350.27,238.80 351.60,237.27 352.93,235.80 354.25,234.35 355.58,232.91 356.91,231.43 358.24,229.94 359.56,228.45 360.89,226.97 362.22,225.49 363.55,224.01 364.87,222.53 366.20,221.04" fill="none" stroke="#3a3a3a" stroke-width="2.3" stroke-linejoin="round" stroke-linecap="round"/>
<polyline points="260.00,309.02 261.33,307.38 262.65,306.04 263.98,305.08 265.31,304.33 266.64,303.96 267.96,303.71 269.29,303.51 270.62,303.32 271.95,303.13 273.27,302.93 274.60,302.73 275.93,302.54 277.26,302.35 278.58,302.16 279.91,301.97 281.24,301.77 282.57,301.56 283.89,301.34 285.22,301.12 286.55,300.90 287.88,300.67 289.20,300.43 290.53,300.19 291.86,299.95 293.19,299.69 294.51,299.43 295.84,299.15 297.17,298.86 298.50,298.56 299.82,298.23 301.15,297.89 302.48,297.52 303.81,297.12 305.13,296.64 306.46,296.08 307.79,295.42 309.12,294.68 310.44,293.85 311.77,292.91 313.10,291.83 314.43,290.72 315.75,289.68 317.08,288.67 318.41,287.66 319.74,286.67 321.06,285.67 322.39,284.67 323.72,283.67 325.05,282.67 326.38,281.67 327.70,280.68 329.03,279.67 330.36,278.65 331.69,277.63 333.01,276.59 334.34,275.55 335.67,274.51 337.00,273.46 338.32,272.40 339.65,271.33 340.98,270.25 342.31,269.13 343.63,268.00 344.96,266.88 346.29,265.78 347.62,264.71 348.94,263.71 350.27,262.73 351.60,261.77 352.93,260.85 354.25,259.98 355.58,259.16 356.91,258.40 358.24,257.72 359.56,257.09 360.89,256.51 362.22,255.95 363.55,255.40 364.87,254.85 366.20,254.28" fill="none" stroke="#34477a" stroke-width="3.8" stroke-linejoin="round" stroke-linecap="round"/>
<polyline points="303.81,297.12 305.13,296.64 306.46,296.08 307.79,295.42 309.12,294.69 310.44,293.85 311.77,292.90 313.10,291.79 314.43,290.64 315.75,289.57 317.08,288.52 318.41,287.48 319.74,286.44 321.06,285.41 322.39,284.38 323.72,283.34 325.05,282.31 326.38,281.28 327.70,280.24 329.03,279.20 330.36,278.15 331.69,277.09 333.01,276.02 334.34,274.94 335.67,273.86 337.00,272.77 338.32,271.67 339.65,270.57 340.98,269.45 342.31,268.29 343.63,267.12 344.96,265.96 346.29,264.82 347.62,263.72 348.94,262.67 350.27,261.67 351.60,260.70 352.93,259.76 354.25,258.86 355.58,258.00 356.91,257.18 358.24,256.41 359.56,255.69 360.89,255.00 362.22,254.33 363.55,253.67 364.87,253.01 366.20,252.32" fill="none" stroke="#4f7fd0" stroke-width="1.9" stroke-linejoin="round" stroke-linecap="round"/>
<polyline points="303.81,297.12 305.13,296.64 306.46,296.08 307.79,295.42 309.12,294.68 310.44,293.84 311.77,292.92 313.10,291.87 314.43,290.79 315.75,289.79 317.08,288.80 318.41,287.83 319.74,286.87 321.06,285.90 322.39,284.93 323.72,283.96 325.05,283.00 326.38,282.03 327.70,281.07 329.03,280.09 330.36,279.11 331.69,278.11 333.01,277.11 334.34,276.11 335.67,275.10 337.00,274.08 338.32,273.05 339.65,272.02 340.98,270.97 342.31,269.89 343.63,268.80 344.96,267.71 346.29,266.64 347.62,265.61 348.94,264.63 350.27,263.68 351.60,262.74 352.93,261.84 354.25,260.99 355.58,260.21 356.91,259.50 358.24,258.89 359.56,258.35 360.89,257.86 362.22,257.41 363.55,256.96 364.87,256.51 366.20,256.04" fill="none" stroke="#1f4f7e" stroke-width="1.5" stroke-linejoin="round" stroke-linecap="round"/>
<polyline points="311.77,292.91 313.10,291.83 314.43,290.71 315.75,289.67 317.08,288.65 318.41,287.65 319.74,286.64 321.06,285.64 322.39,284.64 323.72,283.64 325.05,282.63 326.38,281.63 327.70,280.63 329.03,279.62 330.36,278.60 331.69,277.57 333.01,276.54 334.34,275.49 335.67,274.44 337.00,273.39 338.32,272.33 339.65,271.26 340.98,270.17 342.31,269.05 343.63,267.92 344.96,266.79 346.29,265.68 347.62,264.62 348.94,263.60 350.27,262.62 351.60,261.66 352.93,260.74 354.25,259.87 355.58,259.04 356.91,258.28 358.24,257.59 359.56,256.95 360.89,256.36 362.22,255.79 363.55,255.23 364.87,254.67 366.20,254.08" fill="none" stroke="#a9c4ea" stroke-width="0.9" stroke-linejoin="round" stroke-linecap="round"/>
<polyline points="260.00,309.02 261.33,307.38 262.65,306.04 263.98,305.08 265.31,304.33 266.64,303.96 267.96,303.71 269.29,303.51 270.62,303.32 271.95,303.13 273.27,302.93 274.60,302.73 275.93,302.54 277.26,302.35 278.58,302.16 279.91,301.97 281.24,301.77 282.57,301.56 283.89,301.34 285.22,301.12 286.55,300.90 287.88,300.67 289.20,300.43 290.53,300.19 291.86,299.95 293.19,299.69 294.51,299.43 295.84,299.15 297.17,298.86 298.50,298.56 299.82,298.23 301.15,297.89 302.48,297.52 303.81,297.12 305.13,296.64 306.46,296.08 307.79,295.42 309.12,294.68 310.44,293.85 311.77,292.91 313.10,291.83 314.43,290.72 315.75,289.68 317.08,288.67 318.41,287.66 319.74,286.67 321.06,285.67 322.39,284.67 323.72,283.67 325.05,282.67 326.38,281.67 327.70,280.68 329.03,279.67 330.36,278.65 331.69,277.63 333.01,276.59 334.34,275.55 335.67,274.51 337.00,273.46 338.32,272.40 339.65,271.33 340.98,270.25 342.31,269.13 343.63,268.00 344.96,266.88 346.29,265.78 347.62,264.71 348.94,263.71 350.27,262.73 351.60,261.77 352.93,260.85 354.25,259.98 355.58,259.16 356.91,258.40 358.24,257.72 359.56,257.09 360.89,256.51 362.22,255.95 363.55,255.40 364.87,254.85 366.20,254.28" fill="none" stroke="#5d77ad" stroke-width="1.0" stroke-linejoin="round" stroke-linecap="round"/>
<rect x="265.00" y="208.60" width="8.40" height="5.40" fill="#5a5a5a" stroke="#222" stroke-width="0.9"/>
<text x="278.00" y="213.80" font-size="7" font-weight="normal" text-anchor="start" fill="#1a1a1a" stroke="#1a1a1a" stroke-width="0.25">RFP shRNA</text>
<rect x="265.00" y="217.50" width="8.40" height="5.40" fill="#0f7389" stroke="#0a3f4c" stroke-width="0.9"/>
<text x="278.00" y="222.70" font-size="7" font-weight="normal" text-anchor="start" fill="#1a1a1a" stroke="#1a1a1a" stroke-width="0.25">Plk4 shRNA#1</text>
<rect x="265.00" y="226.40" width="8.40" height="5.40" fill="#5a8fda" stroke="#2a4a86" stroke-width="0.9"/>
<text x="278.00" y="231.60" font-size="7" font-weight="normal" text-anchor="start" fill="#1a1a1a" stroke="#1a1a1a" stroke-width="0.25">Plk4 shRNA#2</text>
<rect x="265.00" y="235.30" width="8.40" height="5.40" fill="#c9dcf5" stroke="#35558a" stroke-width="0.9"/>
<text x="278.00" y="240.50" font-size="7" font-weight="normal" text-anchor="start" fill="#1a1a1a" stroke="#1a1a1a" stroke-width="0.25">Plk4 shRNA#3</text>
<line x1="424.00" y1="219.50" x2="424.00" y2="310.20" stroke="#111" stroke-width="1.3"/>
<line x1="423.40" y1="309.60" x2="520.00" y2="309.60" stroke="#111" stroke-width="1.3"/>
<line x1="421.40" y1="309.60" x2="424.00" y2="309.60" stroke="#111" stroke-width="1.2"/>
<text x="419.80" y="312.00" font-size="6.6" font-weight="bold" text-anchor="end" fill="#000" stroke="#000" stroke-width="0.15">0</text>
<line x1="421.40" y1="270.50" x2="424.00" y2="270.50" stroke="#111" stroke-width="1.2"/>
<text x="419.80" y="272.90" font-size="6.6" font-weight="bold" text-anchor="end" fill="#000" stroke="#000" stroke-width="0.15">0.2</text>
<line x1="421.40" y1="231.40" x2="424.00" y2="231.40" stroke="#111" stroke-width="1.2"/>
<text x="419.80" y="233.80" font-size="6.6" font-weight="bold" text-anchor="end" fill="#000" stroke="#000" stroke-width="0.15">0.4</text>
<line x1="424.00" y1="309.60" x2="424.00" y2="312.40" stroke="#111" stroke-width="1.2"/>
<text x="424.00" y="319.60" font-size="6.6" font-weight="bold" text-anchor="middle" fill="#000" stroke="#000" stroke-width="0.15">0</text>
<line x1="453.35" y1="309.60" x2="453.35" y2="312.40" stroke="#111" stroke-width="1.2"/>
<text x="453.35" y="319.60" font-size="6.6" font-weight="bold" text-anchor="middle" fill="#000" stroke="#000" stroke-width="0.15">6</text>
<line x1="482.70" y1="309.60" x2="482.70" y2="312.40" stroke="#111" stroke-width="1.2"/>
<text x="482.70" y="319.60" font-size="6.6" font-weight="bold" text-anchor="middle" fill="#000" stroke="#000" stroke-width="0.15">12</text>
<line x1="512.05" y1="309.60" x2="512.05" y2="312.40" stroke="#111" stroke-width="1.2"/>
<text x="512.05" y="319.60" font-size="6.6" font-weight="bold" text-anchor="middle" fill="#000" stroke="#000" stroke-width="0.15">18</text>
<text x="469.00" y="330.30" font-size="8" font-weight="normal" text-anchor="middle" fill="#1a1a1a" stroke="#1a1a1a" stroke-width="0.25">Time (h)</text>
<text x="400.80" y="269.50" font-size="8" font-weight="normal" text-anchor="middle" fill="#1a1a1a" stroke="#1a1a1a" stroke-width="0.25" transform="rotate(-90 400.8 269.5)">Invasion (cell index)</text>
<text x="454.80" y="198.60" font-size="8" font-weight="normal" text-anchor="middle" fill="#1a1a1a" stroke="#1a1a1a" stroke-width="0.25">T-REx FLAG-Plk4</text>
<polyline points="424.00,290.67 425.38,293.58 426.75,303.38 428.13,299.63 429.51,295.43 430.88,292.99 432.26,290.92 433.64,289.40 435.01,287.70 436.39,286.50 437.77,285.36 439.14,284.37 440.52,282.66 441.90,281.16 443.27,279.42 444.65,277.82 446.03,276.46 447.40,275.39 448.78,274.10 450.16,272.91 451.53,271.83 452.91,270.64 454.29,269.20 455.66,268.25 457.04,267.18 458.42,265.79 459.79,265.11 461.17,264.13 462.55,263.45 463.92,262.69 465.30,261.54 466.68,260.75 468.05,259.52 469.43,258.20 470.81,257.50 472.18,256.93 473.56,255.43 474.94,254.56 476.31,253.68 477.69,252.63 479.07,251.84 480.44,250.94 481.82,250.43 483.20,249.11 484.57,248.34 485.95,248.22 487.33,247.04 488.70,246.37 490.08,245.88 491.46,245.13 492.83,244.46 494.21,243.41 495.59,242.99 496.96,241.94 498.34,241.49 499.72,240.26 501.09,239.41 502.47,238.91 503.85,237.97 505.22,236.81 506.60,236.05 507.98,235.28 509.35,234.49 510.73,233.37 512.11,231.98 513.48,231.15 514.86,229.15 516.24,228.11 517.61,226.01 518.99,224.88 520.37,222.83" fill="none" stroke="#6f9a3a" stroke-width="1.7" stroke-linejoin="round" stroke-linecap="round"/>
<polyline points="424.00,291.23 425.38,293.89 426.75,303.13 428.13,299.24 429.51,295.76 430.88,292.61 432.26,288.96 433.64,285.17 435.01,283.36 436.39,281.61 437.77,279.50 439.14,278.42 440.52,276.74 441.90,275.77 443.27,274.52 444.65,273.89 446.03,272.55 447.40,271.44 448.78,270.81 450.16,269.76 451.53,268.96 452.91,268.57 454.29,267.17 455.66,266.45 457.04,265.83 458.42,265.20 459.79,263.71 461.17,263.19 462.55,262.17 463.92,261.23 465.30,260.56 466.68,259.60 468.05,259.23 469.43,258.14 470.81,257.65 472.18,256.51 473.56,255.81 474.94,255.68 476.31,254.92 477.69,254.14 479.07,252.84 480.44,252.54 481.82,251.69 483.20,251.25 484.57,250.41 485.95,249.86 487.33,249.25 488.70,248.44 490.08,247.81 491.46,246.93 492.83,246.46 494.21,245.60 495.59,244.97 496.96,244.14 498.34,243.64 499.72,243.28 501.09,241.98 502.47,241.12 503.85,240.37 505.22,239.82 506.60,238.86 507.98,238.37 509.35,236.97 510.73,236.22 512.11,235.44 513.48,234.47 514.86,232.55 516.24,231.04 517.61,230.29 518.99,228.27 520.37,227.17" fill="none" stroke="#10300f" stroke-width="1.7" stroke-linejoin="round" stroke-linecap="round"/>
<polyline points="424.00,291.31 425.38,293.66 426.75,302.82 428.13,299.51 429.51,295.82 430.88,292.54 432.26,289.08 433.64,286.16 435.01,284.64 436.39,283.05 437.77,280.98 439.14,279.82 440.52,278.14 441.90,277.38 443.27,275.71 444.65,274.16 446.03,273.17 447.40,271.23 448.78,269.90 450.16,269.27 451.53,268.04 452.91,266.50 454.29,265.18 455.66,264.67 457.04,263.90 458.42,262.89 459.79,262.39 461.17,261.44 462.55,260.49 463.92,259.66 465.30,259.07 466.68,258.25 468.05,257.41 469.43,256.34 470.81,255.57 472.18,254.86 473.56,253.29 474.94,252.59 476.31,251.59 477.69,251.04 479.07,249.50 480.44,248.73 481.82,248.45 483.20,247.47 484.57,246.38 485.95,245.65 487.33,244.76 488.70,244.46 490.08,243.45 491.46,242.88 492.83,242.47 494.21,241.52 495.59,240.54 496.96,239.78 498.34,239.23 499.72,238.35 501.09,237.96 502.47,236.97 503.85,235.69 505.22,235.12 506.60,234.40 507.98,233.15 509.35,232.03 510.73,230.98 512.11,230.08 513.48,228.71 514.86,227.12 516.24,225.23 517.61,223.67 518.99,222.02 520.37,220.26" fill="none" stroke="#16b84e" stroke-width="1.8" stroke-linejoin="round" stroke-linecap="round"/>
<polyline points="424.00,289.95 425.38,292.84 426.75,302.87 428.13,298.96 429.51,295.49 430.88,292.85 432.26,291.44 433.64,289.60 435.01,288.61 436.39,288.80 437.77,288.61 439.14,288.75 440.52,287.52 441.90,286.56 443.27,285.31 444.65,284.50 446.03,284.22 447.40,283.38 448.78,282.67 450.16,281.52 451.53,280.98 452.91,280.77 454.29,279.55 455.66,279.34 457.04,278.22 458.42,277.86 459.79,277.21 461.17,275.78 462.55,275.55 463.92,274.80 465.30,273.48 466.68,272.85 468.05,272.61 469.43,271.40 470.81,271.05 472.18,270.28 473.56,269.99 474.94,268.77 476.31,268.32 477.69,267.47 479.07,266.91 480.44,266.76 481.82,266.10 483.20,265.66 484.57,265.11 485.95,264.63 487.33,263.92 488.70,263.17 490.08,263.12 491.46,262.08 492.83,261.81 494.21,261.28 495.59,260.31 496.96,259.96 498.34,259.44 499.72,258.66 501.09,257.83 502.47,257.65 503.85,256.21 505.22,256.19 506.60,254.79 507.98,253.81 509.35,253.47 510.73,251.77 512.11,250.85 513.48,249.34 514.86,248.36 516.24,246.86 517.61,245.28 518.99,243.21 520.37,242.39" fill="none" stroke="#1d1a5c" stroke-width="1.7" stroke-linejoin="round" stroke-linecap="round"/>
<rect x="431.40" y="208.30" width="8.60" height="4.60" fill="#1d1a5c" stroke="#0d0b33" stroke-width="0.9"/>
<text x="443.80" y="213.20" font-size="7.4" font-weight="normal" text-anchor="start" fill="#1a1a1a" stroke="#1a1a1a" stroke-width="0.25">No tetracycline</text>
<rect x="431.40" y="217.30" width="8.60" height="4.60" fill="#18c455" stroke="#0c7a30" stroke-width="0.9"/>
<text x="443.80" y="222.20" font-size="7.4" font-weight="normal" text-anchor="start" fill="#1a1a1a" stroke="#1a1a1a" stroke-width="0.25">0.1 μg/mL</text>
<rect x="431.40" y="226.30" width="8.60" height="4.60" fill="#6f9a3a" stroke="#3d5a1c" stroke-width="0.9"/>
<text x="443.80" y="231.20" font-size="7.4" font-weight="normal" text-anchor="start" fill="#1a1a1a" stroke="#1a1a1a" stroke-width="0.25">1.0 μg/mL</text>
<rect x="431.40" y="235.30" width="8.60" height="4.60" fill="#10300f" stroke="#041004" stroke-width="0.9"/>
<text x="443.80" y="240.20" font-size="7.4" font-weight="normal" text-anchor="start" fill="#1a1a1a" stroke="#1a1a1a" stroke-width="0.25">2.0 μg/mL</text>
<rect x="17.80" y="411.80" width="144.80" height="76.70" fill="#000"/>
<g filter="url(#blur1)">
<rect x="22.00" y="442.50" width="137.00" height="6.50" fill="#6a3fb0" opacity="0.55"/>
<ellipse cx="21.9" cy="443.2" rx="2.3" ry="6.3" fill="#5a50d0" opacity="0.71"/>
<ellipse cx="25.7" cy="445.1" rx="2.2" ry="4.4" fill="#5a50d0" opacity="0.77"/>
<ellipse cx="28.6" cy="445.5" rx="1.6" ry="4.0" fill="#7a3fc0" opacity="0.74"/>
<ellipse cx="31.8" cy="442.8" rx="2.0" ry="6.7" fill="#d02a50" opacity="0.89"/>
<ellipse cx="34.3" cy="442.9" rx="1.5" ry="6.6" fill="#5a46d8" opacity="0.84"/>
<ellipse cx="36.1" cy="445.8" rx="2.3" ry="3.7" fill="#5a46d8" opacity="0.82"/>
<ellipse cx="39.7" cy="443.0" rx="1.5" ry="6.5" fill="#a03ab0" opacity="0.77"/>
<ellipse cx="43.0" cy="442.7" rx="1.8" ry="6.8" fill="#6a4ae0" opacity="0.69"/>
<ellipse cx="46.1" cy="441.3" rx="1.4" ry="8.2" fill="#6a4ae0" opacity="0.66"/>
<ellipse cx="48.5" cy="444.6" rx="1.4" ry="4.9" fill="#7a3fc0" opacity="0.69"/>
<ellipse cx="52.7" cy="444.1" rx="2.4" ry="5.4" fill="#5a46d8" opacity="0.62"/>
<ellipse cx="55.9" cy="445.7" rx="1.7" ry="3.8" fill="#d02a50" opacity="0.70"/>
<ellipse cx="58.1" cy="445.0" rx="2.0" ry="4.5" fill="#c0304a" opacity="0.58"/>
<ellipse cx="60.7" cy="441.2" rx="2.1" ry="8.3" fill="#7a3fc0" opacity="0.60"/>
<ellipse cx="64.4" cy="445.9" rx="1.8" ry="3.6" fill="#5a50d0" opacity="0.61"/>
<ellipse cx="67.1" cy="443.8" rx="1.5" ry="5.7" fill="#4a52e0" opacity="0.70"/>
<ellipse cx="69.8" cy="444.0" rx="2.4" ry="5.5" fill="#5a46d8" opacity="0.64"/>
<ellipse cx="73.9" cy="442.0" rx="1.6" ry="7.5" fill="#5a46d8" opacity="0.62"/>
<ellipse cx="75.8" cy="441.7" rx="2.0" ry="7.8" fill="#7a3fc0" opacity="0.56"/>
<ellipse cx="78.3" cy="443.8" rx="1.3" ry="5.7" fill="#c0304a" opacity="0.84"/>
<ellipse cx="81.8" cy="445.6" rx="1.5" ry="3.9" fill="#a03ab0" opacity="0.56"/>
<ellipse cx="84.7" cy="442.9" rx="1.4" ry="6.6" fill="#5a50d0" opacity="0.84"/>
<ellipse cx="87.3" cy="444.1" rx="2.0" ry="5.4" fill="#6a4ae0" opacity="0.87"/>
<ellipse cx="91.6" cy="444.8" rx="1.5" ry="4.7" fill="#a03ab0" opacity="0.79"/>
<ellipse cx="93.8" cy="443.6" rx="1.4" ry="5.9" fill="#5a46d8" opacity="0.59"/>
<ellipse cx="96.1" cy="441.2" rx="1.6" ry="8.3" fill="#d02a50" opacity="0.64"/>
<ellipse cx="100.6" cy="443.0" rx="1.6" ry="6.5" fill="#4a52e0" opacity="0.88"/>
<ellipse cx="104.0" cy="445.4" rx="1.8" ry="4.1" fill="#7a3fc0" opacity="0.65"/>
<ellipse cx="106.8" cy="445.0" rx="1.3" ry="4.5" fill="#6a4ae0" opacity="0.69"/>
<ellipse cx="108.5" cy="445.8" rx="1.6" ry="3.7" fill="#4a52e0" opacity="0.58"/>
<ellipse cx="111.3" cy="443.7" rx="1.7" ry="5.8" fill="#4a52e0" opacity="0.76"/>
<ellipse cx="115.8" cy="443.6" rx="1.7" ry="5.9" fill="#6a4ae0" opacity="0.89"/>
<ellipse cx="117.0" cy="442.8" rx="1.8" ry="6.7" fill="#6a4ae0" opacity="0.66"/>
<ellipse cx="122.0" cy="445.6" rx="1.9" ry="3.9" fill="#5a46d8" opacity="0.87"/>
<ellipse cx="124.5" cy="442.5" rx="2.2" ry="7.0" fill="#c0304a" opacity="0.67"/>
<ellipse cx="127.4" cy="441.5" rx="2.3" ry="8.0" fill="#d02a50" opacity="0.88"/>
<ellipse cx="129.1" cy="443.5" rx="1.3" ry="6.0" fill="#d02a50" opacity="0.68"/>
<ellipse cx="132.0" cy="445.6" rx="1.4" ry="3.9" fill="#7a3fc0" opacity="0.90"/>
<ellipse cx="136.8" cy="442.4" rx="1.7" ry="7.1" fill="#5a50d0" opacity="0.70"/>
<ellipse cx="139.7" cy="445.6" rx="2.1" ry="3.9" fill="#5a46d8" opacity="0.66"/>
<ellipse cx="141.2" cy="445.9" rx="2.4" ry="3.6" fill="#7a3fc0" opacity="0.72"/>
<ellipse cx="145.2" cy="441.4" rx="1.6" ry="8.1" fill="#5a46d8" opacity="0.68"/>
<ellipse cx="147.3" cy="442.9" rx="1.9" ry="6.6" fill="#c0304a" opacity="0.78"/>
<ellipse cx="150.9" cy="441.5" rx="1.7" ry="8.0" fill="#6a4ae0" opacity="0.62"/>
<ellipse cx="153.9" cy="442.0" rx="2.3" ry="7.5" fill="#a03ab0" opacity="0.68"/>
<ellipse cx="157.2" cy="444.4" rx="1.4" ry="5.1" fill="#5a50d0" opacity="0.67"/>
<ellipse cx="24.2" cy="453.2" rx="1.5" ry="2.2" fill="#f02a2a" opacity="0.86"/>
<ellipse cx="26.4" cy="455.1" rx="2.9" ry="4.1" fill="#900c0c" opacity="0.64"/>
<ellipse cx="32.3" cy="456.0" rx="2.5" ry="5.0" fill="#a01414" opacity="0.68"/>
<ellipse cx="35.5" cy="453.1" rx="2.8" ry="2.1" fill="#d01818" opacity="0.79"/>
<ellipse cx="40.7" cy="454.6" rx="2.4" ry="3.6" fill="#a01414" opacity="0.46"/>
<ellipse cx="44.9" cy="455.0" rx="1.4" ry="4.0" fill="#f02a2a" opacity="0.57"/>
<ellipse cx="49.5" cy="453.2" rx="2.4" ry="2.2" fill="#900c0c" opacity="0.50"/>
<ellipse cx="55.3" cy="455.9" rx="2.0" ry="4.9" fill="#d01818" opacity="0.79"/>
<ellipse cx="58.9" cy="455.1" rx="1.7" ry="4.1" fill="#d01818" opacity="0.83"/>
<ellipse cx="64.5" cy="453.2" rx="1.8" ry="2.2" fill="#f02a2a" opacity="0.72"/>
<ellipse cx="70.3" cy="455.3" rx="3.0" ry="4.3" fill="#b01010" opacity="0.65"/>
<ellipse cx="74.5" cy="457.1" rx="1.5" ry="6.1" fill="#900c0c" opacity="0.51"/>
<ellipse cx="78.1" cy="455.8" rx="2.9" ry="4.8" fill="#900c0c" opacity="0.73"/>
<ellipse cx="83.3" cy="455.3" rx="2.7" ry="4.3" fill="#f02a2a" opacity="0.68"/>
<ellipse cx="87.9" cy="453.9" rx="2.6" ry="2.9" fill="#d01818" opacity="0.56"/>
<ellipse cx="93.2" cy="457.4" rx="3.0" ry="6.4" fill="#a01414" opacity="0.94"/>
<ellipse cx="97.9" cy="454.2" rx="2.5" ry="3.2" fill="#d01818" opacity="0.62"/>
<ellipse cx="99.9" cy="455.0" rx="2.3" ry="4.0" fill="#f02a2a" opacity="0.69"/>
<ellipse cx="104.4" cy="456.6" rx="1.5" ry="5.6" fill="#d01818" opacity="0.54"/>
<ellipse cx="109.9" cy="456.5" rx="1.6" ry="5.5" fill="#b01010" opacity="0.95"/>
<ellipse cx="116.2" cy="455.3" rx="2.5" ry="4.3" fill="#900c0c" opacity="0.92"/>
<ellipse cx="119.6" cy="457.3" rx="1.5" ry="6.3" fill="#b01010" opacity="0.67"/>
<ellipse cx="124.4" cy="456.7" rx="2.3" ry="5.7" fill="#b01010" opacity="0.71"/>
<ellipse cx="129.8" cy="455.5" rx="1.9" ry="4.5" fill="#900c0c" opacity="0.93"/>
<ellipse cx="134.5" cy="455.7" rx="1.9" ry="4.7" fill="#b01010" opacity="0.93"/>
<ellipse cx="138.1" cy="455.6" rx="1.7" ry="4.6" fill="#a01414" opacity="0.51"/>
<ellipse cx="141.1" cy="454.7" rx="2.3" ry="3.7" fill="#d01818" opacity="0.71"/>
<ellipse cx="146.9" cy="456.6" rx="2.3" ry="5.6" fill="#900c0c" opacity="0.50"/>
<ellipse cx="150.8" cy="457.2" rx="2.1" ry="6.2" fill="#900c0c" opacity="0.58"/>
<ellipse cx="156.3" cy="453.6" rx="2.1" ry="2.6" fill="#900c0c" opacity="0.71"/>
</g>
<rect x="21.20" y="448.70" width="139.60" height="2.50" fill="#fff"/>
<text x="160.80" y="477.40" font-size="8" font-weight="normal" text-anchor="end" fill="#4a5cc4" stroke="#4a5cc4" stroke-width="0.25">Hoechst</text>
<text x="160.80" y="486.30" font-size="8" font-weight="normal" text-anchor="end" fill="#e02020" stroke="#e02020" stroke-width="0.25">Phalloidin</text>
<text x="0.30" y="443.20" font-size="9" font-weight="normal" text-anchor="start" fill="#1a1a1a" stroke="#1a1a1a" stroke-width="0.25">CB</text>
<text x="6.50" y="462.20" font-size="9" font-weight="normal" text-anchor="start" fill="#1a1a1a" stroke="#1a1a1a" stroke-width="0.25">P</text>
<path d="M17.4,430.5 L15.6,430.5 L15.6,448.4 L17.4,448.4 M15.6,439.4 L14.3,439.4" fill="none" stroke="#222" stroke-width="0.9"/>
<path d="M17.4,451.0 L15.6,451.0 L15.6,468.6 L17.4,468.6 M15.6,459.8 L14.3,459.8" fill="none" stroke="#222" stroke-width="0.9"/>
<rect x="186.40" y="417.60" width="29.50" height="25.60" fill="#c6c6c6" stroke="#3a3a3a" stroke-width="0.9"/>
<rect x="186.40" y="445.30" width="29.50" height="25.40" fill="#b9b9b9" stroke="#3a3a3a" stroke-width="0.9"/>
<g filter="url(#blur2)">
<rect x="191.60" y="428.60" width="9.60" height="3.80" fill="#050505"/>
<rect x="189.60" y="457.90" width="9.80" height="3.20" fill="#1a1a1a"/>
<rect x="201.80" y="458.10" width="10.40" height="3.00" fill="#222"/>
<rect x="187.50" y="452.00" width="27.00" height="2.50" fill="#a8a8a8"/>
</g>
<text x="173.80" y="416.80" font-size="5.6" font-weight="normal" text-anchor="start" fill="#1a1a1a" stroke="#1a1a1a" stroke-width="0.25">kDa</text>
<text x="188.60" y="415.70" font-size="8" font-weight="normal" text-anchor="start" fill="#1a1a1a" stroke="#1a1a1a" stroke-width="0.25">CB</text>
<text x="207.40" y="415.70" font-size="8" font-weight="normal" text-anchor="start" fill="#1a1a1a" stroke="#1a1a1a" stroke-width="0.25">P</text>
<text x="184.40" y="432.40" font-size="5.6" font-weight="normal" text-anchor="end" fill="#1a1a1a" stroke="#1a1a1a" stroke-width="0.25">130</text>
<text x="184.40" y="461.50" font-size="5.6" font-weight="normal" text-anchor="end" fill="#1a1a1a" stroke="#1a1a1a" stroke-width="0.25">55</text>
<text x="218.00" y="433.50" font-size="8" font-weight="normal" text-anchor="start" fill="#1a1a1a" stroke="#1a1a1a" stroke-width="0.25">mHsp 70</text>
<text x="217.60" y="461.20" font-size="8" font-weight="normal" text-anchor="start" fill="#1a1a1a" stroke="#1a1a1a" stroke-width="0.25">β-Tubulin</text>
<text x="178.70" y="483.00" font-size="8" font-weight="normal" text-anchor="start" fill="#1a1a1a" stroke="#1a1a1a" stroke-width="0.25">CB = Cell Body</text>
<text x="178.70" y="493.70" font-size="8" font-weight="normal" text-anchor="start" fill="#1a1a1a" stroke="#1a1a1a" stroke-width="0.25">P = Protrusions</text>
<line x1="287.20" y1="411.00" x2="287.20" y2="496.00" stroke="#111" stroke-width="1.3"/>
<line x1="286.60" y1="495.40" x2="358.00" y2="495.40" stroke="#111" stroke-width="1.3"/>
<line x1="284.60" y1="495.40" x2="287.20" y2="495.40" stroke="#111" stroke-width="1.2"/>
<text x="282.90" y="497.80" font-size="6.5" font-weight="bold" text-anchor="end" fill="#000" stroke="#000" stroke-width="0.15">0.0</text>
<line x1="284.60" y1="475.00" x2="287.20" y2="475.00" stroke="#111" stroke-width="1.2"/>
<text x="282.90" y="477.40" font-size="6.5" font-weight="bold" text-anchor="end" fill="#000" stroke="#000" stroke-width="0.15">0.2</text>
<line x1="284.60" y1="454.60" x2="287.20" y2="454.60" stroke="#111" stroke-width="1.2"/>
<text x="282.90" y="457.00" font-size="6.5" font-weight="bold" text-anchor="end" fill="#000" stroke="#000" stroke-width="0.15">0.4</text>
<line x1="284.60" y1="434.20" x2="287.20" y2="434.20" stroke="#111" stroke-width="1.2"/>
<text x="282.90" y="436.60" font-size="6.5" font-weight="bold" text-anchor="end" fill="#000" stroke="#000" stroke-width="0.15">0.6</text>
<line x1="284.60" y1="413.80" x2="287.20" y2="413.80" stroke="#111" stroke-width="1.2"/>
<text x="282.90" y="416.20" font-size="6.5" font-weight="bold" text-anchor="end" fill="#000" stroke="#000" stroke-width="0.15">0.8</text>
<line x1="296.90" y1="425.22" x2="296.90" y2="432.87" stroke="#0e0e48" stroke-width="1"/>
<line x1="294.30" y1="425.22" x2="299.50" y2="425.22" stroke="#0e0e48" stroke-width="1"/>
<rect x="291.30" y="432.87" width="11.20" height="62.53" fill="#1c1c7e" stroke="#0e0e48" stroke-width="0.6"/>
<line x1="314.40" y1="454.80" x2="314.40" y2="462.45" stroke="#8a5a96" stroke-width="1"/>
<line x1="311.80" y1="454.80" x2="317.00" y2="454.80" stroke="#8a5a96" stroke-width="1"/>
<rect x="308.30" y="462.45" width="12.20" height="32.95" fill="#d1a6da" stroke="#8a5a96" stroke-width="0.6"/>
<line x1="331.40" y1="458.48" x2="331.40" y2="460.01" stroke="#6e2f80" stroke-width="1"/>
<line x1="328.80" y1="458.48" x2="334.00" y2="458.48" stroke="#6e2f80" stroke-width="1"/>
<rect x="325.30" y="460.01" width="12.20" height="35.39" fill="#b261c4" stroke="#6e2f80" stroke-width="0.6"/>
<line x1="348.65" y1="467.45" x2="348.65" y2="470.61" stroke="#55206a" stroke-width="1"/>
<line x1="346.05" y1="467.45" x2="351.25" y2="467.45" stroke="#55206a" stroke-width="1"/>
<rect x="342.50" y="470.61" width="12.30" height="24.79" fill="#8f3ca2" stroke="#55206a" stroke-width="0.6"/>
<text x="314.30" y="456.20" font-size="10" font-weight="bold" text-anchor="middle" fill="#000" stroke="#000" stroke-width="0.15">*</text>
<text x="331.40" y="460.40" font-size="10" font-weight="bold" text-anchor="middle" fill="#000" stroke="#000" stroke-width="0.15">*</text>
<text x="348.70" y="467.10" font-size="10" font-weight="bold" text-anchor="middle" fill="#000" stroke="#000" stroke-width="0.15">**</text>
<text x="268.40" y="454.90" font-size="8" font-weight="normal" text-anchor="middle" fill="#1a1a1a" stroke="#1a1a1a" stroke-width="0.25" transform="rotate(-90 268.4 454.9)">Protein in protrusions</text>
<rect x="308.20" y="408.30" width="8.60" height="4.40" fill="#1c1c7e" stroke="#0e0e48" stroke-width="0.6"/>
<text x="319.50" y="413.00" font-size="7" font-weight="normal" text-anchor="start" fill="#1a1a1a" stroke="#1a1a1a" stroke-width="0.25">Luciferase siRNA</text>
<rect x="308.20" y="417.60" width="8.60" height="4.40" fill="#d1a6da" stroke="#8a5a96" stroke-width="0.6"/>
<text x="319.50" y="422.30" font-size="7" font-weight="normal" text-anchor="start" fill="#1a1a1a" stroke="#1a1a1a" stroke-width="0.25">Plk4 siRNA-A</text>
<rect x="308.20" y="426.90" width="8.60" height="4.40" fill="#b261c4" stroke="#6e2f80" stroke-width="0.6"/>
<text x="319.50" y="431.60" font-size="7" font-weight="normal" text-anchor="start" fill="#1a1a1a" stroke="#1a1a1a" stroke-width="0.25">Plk4 siRNA-B</text>
<rect x="308.20" y="436.20" width="8.60" height="4.40" fill="#8f3ca2" stroke="#55206a" stroke-width="0.6"/>
<text x="319.50" y="440.90" font-size="7" font-weight="normal" text-anchor="start" fill="#1a1a1a" stroke="#1a1a1a" stroke-width="0.25">Plk4 siRNA-C</text>
<line x1="416.30" y1="414.40" x2="416.30" y2="496.00" stroke="#111" stroke-width="1.3"/>
<line x1="415.70" y1="495.40" x2="452.70" y2="495.40" stroke="#111" stroke-width="1.3"/>
<line x1="413.70" y1="495.40" x2="416.30" y2="495.40" stroke="#111" stroke-width="1.2"/>
<text x="412.00" y="497.80" font-size="6.5" font-weight="bold" text-anchor="end" fill="#000" stroke="#000" stroke-width="0.15">0.0</text>
<line x1="413.70" y1="458.50" x2="416.30" y2="458.50" stroke="#111" stroke-width="1.2"/>
<text x="412.00" y="460.90" font-size="6.5" font-weight="bold" text-anchor="end" fill="#000" stroke="#000" stroke-width="0.15">0.5</text>
<line x1="413.70" y1="421.60" x2="416.30" y2="421.60" stroke="#111" stroke-width="1.2"/>
<text x="412.00" y="424.00" font-size="6.5" font-weight="bold" text-anchor="end" fill="#000" stroke="#000" stroke-width="0.15">1.0</text>
<line x1="425.40" y1="441.53" x2="425.40" y2="446.32" stroke="#5e5a6c" stroke-width="1"/>
<line x1="422.80" y1="441.53" x2="428.00" y2="441.53" stroke="#5e5a6c" stroke-width="1"/>
<rect x="419.60" y="446.32" width="11.60" height="49.08" fill="#aaa6b6" stroke="#5e5a6c" stroke-width="0.6"/>
<line x1="442.60" y1="421.97" x2="442.60" y2="427.13" stroke="#0a5028" stroke-width="1"/>
<line x1="440.00" y1="421.97" x2="445.20" y2="421.97" stroke="#0a5028" stroke-width="1"/>
<rect x="436.50" y="427.13" width="12.20" height="68.26" fill="#128b48" stroke="#0a5028" stroke-width="0.6"/>
<text x="394.00" y="456.75" font-size="8.4" font-weight="normal" text-anchor="middle" fill="#1a1a1a" stroke="#1a1a1a" stroke-width="0.25" transform="rotate(-90 394.0 456.75)">Protein in protrusions</text>
<rect x="421.70" y="403.50" width="8.90" height="4.60" fill="#aaa6b6" stroke="#5e5a6c" stroke-width="0.6"/>
<text x="433.00" y="408.30" font-size="7" font-weight="normal" text-anchor="start" fill="#1a1a1a" stroke="#1a1a1a" stroke-width="0.25">FLAG</text>
<rect x="421.70" y="412.90" width="8.90" height="4.60" fill="#128b48" stroke="#0a5028" stroke-width="0.6"/>
<text x="433.00" y="417.70" font-size="7" font-weight="normal" text-anchor="start" fill="#1a1a1a" stroke="#1a1a1a" stroke-width="0.25">FLAG-Plk4</text>
</svg>
</body></html>
